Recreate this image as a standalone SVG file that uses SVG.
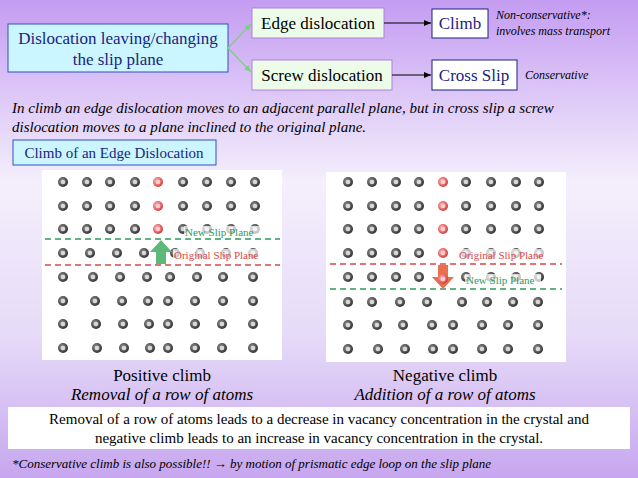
<svg xmlns="http://www.w3.org/2000/svg" width="638" height="478" viewBox="0 0 638 478" font-family="Liberation Serif">
<defs>
<linearGradient id="bg" x1="0" y1="0" x2="0" y2="1">
<stop offset="0" stop-color="#c49cf2"/><stop offset="0.38" stop-color="#f4effc"/><stop offset="0.7" stop-color="#e6dbf8"/><stop offset="1" stop-color="#c7a6ef"/>
</linearGradient>
<radialGradient id="ga" cx="0.4" cy="0.4" r="0.6"><stop offset="0" stop-color="#999"/><stop offset="0.5" stop-color="#666"/><stop offset="1" stop-color="#333"/></radialGradient>
<radialGradient id="ra" cx="0.4" cy="0.4" r="0.6"><stop offset="0" stop-color="#fbb"/><stop offset="0.5" stop-color="#f08080"/><stop offset="1" stop-color="#c84040"/></radialGradient>
<marker id="ah" markerWidth="8" markerHeight="8" refX="7" refY="4" orient="auto" markerUnits="userSpaceOnUse"><path d="M0,1 L7,4 L0,7z" fill="#000"/></marker>
<marker id="gh" markerWidth="8" markerHeight="8" refX="7" refY="4" orient="auto" markerUnits="userSpaceOnUse"><path d="M0,1 L7,4 L0,7z" fill="#7ccf80"/></marker>
<g id="atom"><circle r="5" fill="url(#ga)"/><circle r="2.3" fill="#d8d8d8"/></g>
<g id="ratom"><circle r="5" fill="url(#ra)"/><circle r="2.3" fill="#fcc"/></g>
</defs>
<rect width="638" height="478" fill="url(#bg)"/>
<g id="main"><rect x="8" y="24" width="220" height="48" fill="#ccf6ff" stroke="#3050c0"/><text font-size="17" fill="#1a237e" x="118" y="44" text-anchor="middle">Dislocation leaving/changing</text><text font-size="17" fill="#1a237e" x="118" y="65" text-anchor="middle">the slip plane</text></g>
<g id="edge"><rect x="252" y="8" width="132" height="30" fill="#ecfce8" stroke="#b080d8"/><text font-size="17" x="318" y="29" text-anchor="middle">Edge dislocation</text></g>
<g id="screw"><rect x="252" y="60" width="140" height="30" fill="#ecfce8" stroke="#b080d8"/><text font-size="17" x="322" y="81" text-anchor="middle">Screw dislocation</text></g>
<g id="climb"><rect x="432" y="9" width="56" height="29" fill="#fff" stroke="#1a237e"/><text font-size="17" fill="#1a237e" x="460" y="29" text-anchor="middle">Climb</text></g>
<g id="cross"><rect x="432" y="60" width="85" height="30" fill="#fff" stroke="#1a237e"/><text font-size="17" fill="#1a237e" x="474" y="81" text-anchor="middle">Cross Slip</text></g>
<text font-size="12" font-style="italic" x="496" y="19">Non-conservative*:</text>
<text font-size="12" font-style="italic" x="496" y="35">involves mass transport</text>
<text font-size="12" font-style="italic" x="525" y="79">Conservative</text>
<g id="connectors">
<line x1="228" y1="48" x2="251" y2="24" stroke="#7ccf80" stroke-width="1.2" marker-end="url(#gh)"/>
<line x1="228" y1="48" x2="251" y2="72" stroke="#7ccf80" stroke-width="1.2" marker-end="url(#gh)"/>
<line x1="384" y1="23" x2="431" y2="23" stroke="#000" marker-end="url(#ah)"/>
<line x1="392" y1="75" x2="431" y2="75" stroke="#000" marker-end="url(#ah)"/>
</g>
<text font-size="15" font-style="italic" x="12" y="113">In climb an edge dislocation moves to an adjacent parallel plane, but in cross slip a screw</text>
<text font-size="15" font-style="italic" x="12" y="132">dislocation moves to a plane inclined to the original plane.</text>
<g id="climbtitle"><rect x="13" y="140" width="203" height="25" fill="#ccf6ff" stroke="#3050c0"/><text x="114" y="158" text-anchor="middle" fill="#1a237e" font-size="15">Climb of an Edge Dislocation</text></g>

<g id="left">
<rect x="42" y="170" width="240" height="190" fill="#fff"/>
<g>
<use href="#atom" x="63" y="182"/><use href="#atom" x="87" y="182"/><use href="#atom" x="110" y="182"/><use href="#atom" x="135" y="182"/><use href="#ratom" x="158" y="182"/><use href="#atom" x="183" y="182"/><use href="#atom" x="207" y="182"/><use href="#atom" x="231" y="182"/><use href="#atom" x="255" y="182"/>
<use href="#atom" x="63" y="206"/><use href="#atom" x="87" y="206"/><use href="#atom" x="110" y="206"/><use href="#atom" x="135" y="206"/><use href="#ratom" x="158" y="206"/><use href="#atom" x="183" y="206"/><use href="#atom" x="207" y="206"/><use href="#atom" x="231" y="206"/><use href="#atom" x="255" y="206"/>
<use href="#atom" x="63" y="229"/><use href="#atom" x="87" y="229"/><use href="#atom" x="110" y="229"/><use href="#atom" x="135" y="229"/><use href="#ratom" x="158" y="229"/><use href="#atom" x="183" y="229"/><use href="#atom" x="207" y="229"/><use href="#atom" x="231" y="229"/><use href="#atom" x="255" y="229"/>
<use href="#atom" x="63" y="253"/><use href="#atom" x="90" y="253"/><use href="#atom" x="117" y="253"/><use href="#atom" x="144" y="253"/><use href="#atom" x="175" y="253"/><use href="#atom" x="200" y="253"/><use href="#atom" x="226" y="253"/><use href="#atom" x="253" y="253"/>
<use href="#atom" x="63" y="277"/><use href="#atom" x="93" y="277"/><use href="#atom" x="120" y="277"/><use href="#atom" x="147" y="277"/><use href="#atom" x="170" y="277"/><use href="#atom" x="197" y="277"/><use href="#atom" x="223" y="277"/><use href="#atom" x="253" y="277"/>
<use href="#atom" x="63" y="301"/><use href="#atom" x="95" y="301"/><use href="#atom" x="122" y="301"/><use href="#atom" x="148" y="301"/><use href="#atom" x="168" y="301"/><use href="#atom" x="195" y="301"/><use href="#atom" x="223" y="301"/><use href="#atom" x="253" y="301"/>
<use href="#atom" x="63" y="324"/><use href="#atom" x="96" y="324"/><use href="#atom" x="123" y="324"/><use href="#atom" x="149" y="324"/><use href="#atom" x="168" y="324"/><use href="#atom" x="195" y="324"/><use href="#atom" x="222" y="324"/><use href="#atom" x="253" y="324"/>
<use href="#atom" x="63" y="348"/><use href="#atom" x="97" y="348"/><use href="#atom" x="124" y="348"/><use href="#atom" x="150" y="348"/><use href="#atom" x="168" y="348"/><use href="#atom" x="195" y="348"/><use href="#atom" x="222" y="348"/><use href="#atom" x="253" y="348"/>
</g>
<line x1="45" y1="239" x2="280" y2="239" stroke="#2e9a60" stroke-width="1.5" stroke-dasharray="6,4"/>
<line x1="45" y1="265" x2="280" y2="265" stroke="#d84848" stroke-width="1.5" stroke-dasharray="6,4"/>
<path d="M156,264 V252 H150 L161,240 L172,252 H166 V264z" fill="#5db87a"/>
<rect x="184" y="226" width="76" height="12" fill="#fff" opacity="0.7"/>
<text font-size="11" x="185" y="236" fill="#2e9a60">New Slip Plane</text>
<rect x="173" y="249" width="94" height="12" fill="#fff" opacity="0.7"/>
<text font-size="11" x="174" y="259" fill="#d84848">Original Slip Plane</text>
</g>

<g id="right">
<rect x="326" y="172" width="240" height="190" fill="#fff"/>
<g>
<use href="#atom" x="348" y="182"/><use href="#atom" x="372" y="182"/><use href="#atom" x="396" y="182"/><use href="#atom" x="419" y="182"/><use href="#ratom" x="443" y="182"/><use href="#atom" x="466" y="182"/><use href="#atom" x="491" y="182"/><use href="#atom" x="516" y="182"/><use href="#atom" x="539" y="182"/>
<use href="#atom" x="348" y="206"/><use href="#atom" x="372" y="206"/><use href="#atom" x="396" y="206"/><use href="#atom" x="419" y="206"/><use href="#ratom" x="443" y="206"/><use href="#atom" x="466" y="206"/><use href="#atom" x="491" y="206"/><use href="#atom" x="516" y="206"/><use href="#atom" x="539" y="206"/>
<use href="#atom" x="348" y="229"/><use href="#atom" x="372" y="229"/><use href="#atom" x="396" y="229"/><use href="#atom" x="419" y="229"/><use href="#ratom" x="443" y="229"/><use href="#atom" x="466" y="229"/><use href="#atom" x="491" y="229"/><use href="#atom" x="516" y="229"/><use href="#atom" x="539" y="229"/>
<use href="#atom" x="348" y="253"/><use href="#atom" x="372" y="253"/><use href="#atom" x="396" y="253"/><use href="#atom" x="419" y="253"/><use href="#ratom" x="443" y="253"/><use href="#atom" x="466" y="253"/><use href="#atom" x="491" y="253"/><use href="#atom" x="516" y="253"/><use href="#atom" x="539" y="253"/>
<use href="#atom" x="348" y="277"/><use href="#atom" x="372" y="277"/><use href="#atom" x="396" y="277"/><use href="#atom" x="419" y="277"/><use href="#atom" x="466" y="277"/><use href="#atom" x="491" y="277"/><use href="#atom" x="516" y="277"/><use href="#atom" x="539" y="277"/>
<use href="#atom" x="348" y="302"/><use href="#atom" x="372" y="302"/><use href="#atom" x="400" y="302"/><use href="#atom" x="427" y="302"/><use href="#atom" x="462" y="302"/><use href="#atom" x="487" y="302"/><use href="#atom" x="513" y="302"/><use href="#atom" x="538" y="302"/>
<use href="#atom" x="348" y="325"/><use href="#atom" x="377" y="325"/><use href="#atom" x="403" y="325"/><use href="#atom" x="432" y="325"/><use href="#atom" x="453" y="325"/><use href="#atom" x="482" y="325"/><use href="#atom" x="508" y="325"/><use href="#atom" x="538" y="325"/>
<use href="#atom" x="348" y="349"/><use href="#atom" x="378" y="349"/><use href="#atom" x="405" y="349"/><use href="#atom" x="433" y="349"/><use href="#atom" x="453" y="349"/><use href="#atom" x="482" y="349"/><use href="#atom" x="508" y="349"/><use href="#atom" x="538" y="349"/>
</g>
<line x1="330" y1="264" x2="562" y2="264" stroke="#d84848" stroke-width="1.5" stroke-dasharray="6,4"/>
<line x1="330" y1="289" x2="562" y2="289" stroke="#2e9a60" stroke-width="1.5" stroke-dasharray="6,4"/>
<path d="M438,265 V277 H432 L443,289 L454,277 H448 V265z" fill="#e8704a"/>
<use href="#ratom" x="443" y="279"/>
<rect x="458" y="249" width="94" height="12" fill="#fff" opacity="0.7"/>
<text font-size="11" x="459" y="259" fill="#d84848">Original Slip Plane</text>
<rect x="465" y="274" width="76" height="12" fill="#fff" opacity="0.7"/>
<text font-size="11" x="466" y="284" fill="#2e9a60">New Slip Plane</text>
</g>

<text font-size="17" x="162" y="381" text-anchor="middle">Positive climb</text>
<text font-size="17" x="162" y="400" text-anchor="middle" font-style="italic">Removal of a row of atoms</text>
<text font-size="17" x="445" y="381" text-anchor="middle">Negative climb</text>
<text font-size="17" x="445" y="400" text-anchor="middle" font-style="italic">Addition of a row of atoms</text>
<g id="note"><rect x="8" y="407" width="622" height="42" fill="#fff"/>
<text x="319" y="424" text-anchor="middle" font-size="15">Removal of a row of atoms leads to a decrease in vacancy concentration in the crystal and</text>
<text x="319" y="443" text-anchor="middle" font-size="15">negative climb leads to an increase in vacancy concentration in the crystal.</text></g>
<text x="12" y="468" font-style="italic" font-size="13">*Conservative climb is also possible!! → by motion of prismatic edge loop on the slip plane</text>
</svg>
